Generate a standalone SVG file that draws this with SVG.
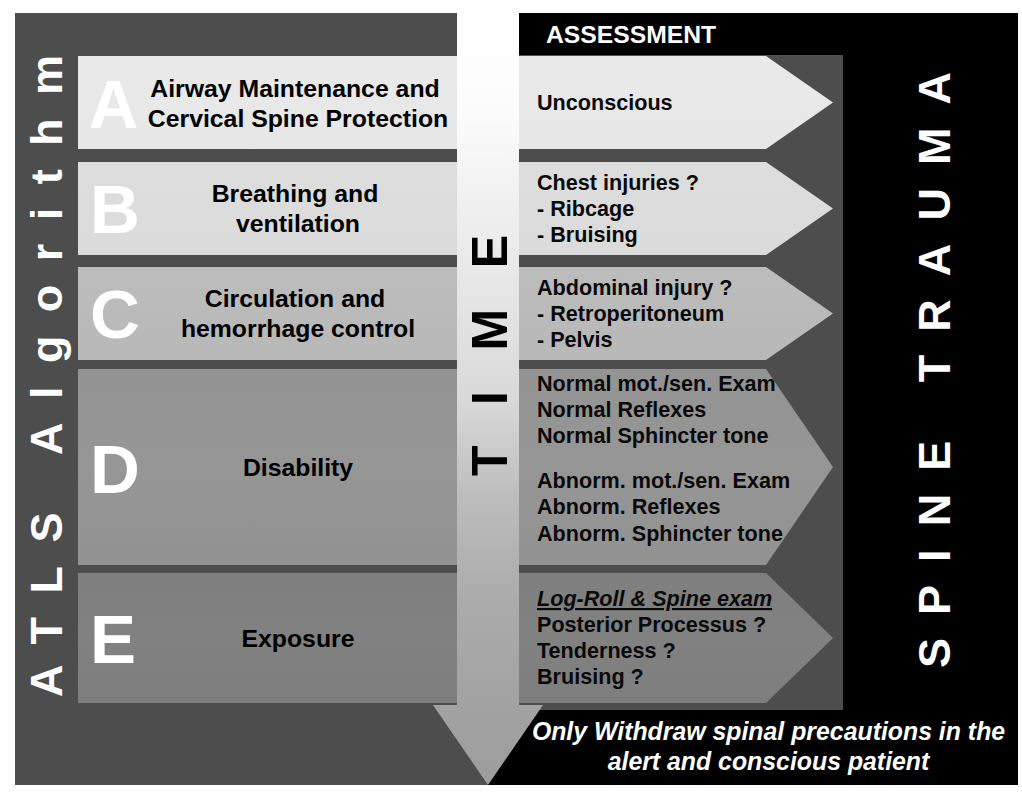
<svg xmlns="http://www.w3.org/2000/svg" width="1022" height="799" viewBox="0 0 1022 799">
<style>
text{font-family:"Liberation Sans",Arial,sans-serif;font-weight:700}
.t{font-size:24.8px;fill:#000;text-anchor:middle}
.r{font-size:21.6px;fill:#0a0a0a}
.b{font-size:69px;fill:#fff}
.v{font-size:45px;fill:#fff}
.w{fill:#fff;font-style:italic;font-size:24.85px;text-anchor:middle}
</style>
<defs>
<linearGradient id="time" gradientUnits="userSpaceOnUse" x1="0" y1="13" x2="0" y2="785"><stop offset="0" stop-color="#fff"/><stop offset=".12" stop-color="#fcfcfc"/><stop offset=".5" stop-color="#d8d9d8"/><stop offset=".63" stop-color="#bcbcbc"/><stop offset=".76" stop-color="#ababab"/><stop offset="1" stop-color="#9c9c9c"/></linearGradient>
<linearGradient id="ga" x1="0" y1="0" x2="0" y2="1"><stop offset="0" stop-color="#e9e9e9"/><stop offset="1" stop-color="#e7e7e7"/></linearGradient>
<linearGradient id="gb" x1="0" y1="0" x2="0" y2="1"><stop offset="0" stop-color="#dddddd"/><stop offset="1" stop-color="#dbdbdb"/></linearGradient>
<linearGradient id="gc" x1="0" y1="0" x2="0" y2="1"><stop offset="0" stop-color="#bcbcbc"/><stop offset="1" stop-color="#b8b8b8"/></linearGradient>
<linearGradient id="gd" x1="0" y1="0" x2="0" y2="1"><stop offset="0" stop-color="#939393"/><stop offset=".5" stop-color="#969696"/><stop offset="1" stop-color="#929292"/></linearGradient>
<linearGradient id="ge" x1="0" y1="0" x2="0" y2="1"><stop offset="0" stop-color="#7f7f7f"/><stop offset=".5" stop-color="#818181"/><stop offset="1" stop-color="#7e7e7e"/></linearGradient>
</defs>
<rect width="1022" height="799" fill="#fff"/>
<rect x="15" y="13" width="474" height="772" fill="#4d4d4d"/>
<path d="M519 13H1018V785H488V705H519Z" fill="#000"/>
<rect x="519" y="55" width="324" height="655" fill="#4d4d4d"/>
<g id="row-a"><path d="M78 56H457V149H78Z" fill="url(#ga)"/><path d="M519 56H766L833 102.500L766 149H519Z" fill="url(#ga)"/>
<text class="b" x="88.500" y="128">A</text><text class="t" x="295" y="97">Airway Maintenance and</text><text class="t" x="298" y="127">Cervical Spine Protection</text><text class="r" x="537" y="110">Unconscious</text></g>
<g id="row-b"><path d="M78 162H457V255H78Z" fill="url(#gb)"/><path d="M519 162H766L833 208.500L766 255H519Z" fill="url(#gb)"/>
<text class="b" x="90" y="233">B</text><text class="t" x="295" y="202">Breathing and</text><text class="t" x="298" y="232">ventilation</text><text class="r" x="537" y="190">Chest injuries ?</text><text class="r" x="537" y="216">- Ribcage</text><text class="r" x="537" y="242">- Bruising</text></g>
<g id="row-c"><path d="M78 267H457V360H78Z" fill="url(#gc)"/><path d="M519 267H766L833 313.500L766 360H519Z" fill="url(#gc)"/>
<text class="b" x="90" y="338">C</text><text class="t" x="295" y="307">Circulation and</text><text class="t" x="298" y="337">hemorrhage control</text><text class="r" x="537" y="295">Abdominal injury ?</text><text class="r" x="537" y="321">- Retroperitoneum</text><text class="r" x="537" y="347">- Pelvis</text></g>
<g id="row-d"><path d="M78 369H457V565H78Z" fill="url(#gd)"/><path d="M519 369H766L833 467L766 565H519Z" fill="url(#gd)"/>
<text class="b" x="90" y="493">D</text><text class="t" x="298" y="476">Disability</text><text class="r" x="537" y="391">Normal mot./sen. Exam</text><text class="r" x="537" y="417">Normal Reflexes</text><text class="r" x="537" y="443">Normal Sphincter tone</text><text class="r" x="537" y="488">Abnorm. mot./sen. Exam</text><text class="r" x="537" y="514">Abnorm. Reflexes</text><text class="r" x="537" y="541">Abnorm. Sphincter tone</text></g>
<g id="row-e"><path d="M78 573H457V703H78Z" fill="url(#ge)"/><path d="M519 573H766L833 638L766 703H519Z" fill="url(#ge)"/>
<text class="b" x="90" y="663">E</text><text class="t" x="298" y="647">Exposure</text><text class="r" x="537" y="606" font-style="italic" text-decoration="underline">Log-Roll &amp; Spine exam</text><text class="r" x="537" y="632">Posterior Processus ?</text><text class="r" x="537" y="658">Tenderness ?</text><text class="r" x="537" y="684">Bruising ?</text></g>
<g id="connectors"><path id="time-arrow" d="M457 13H519V705H543L488 785L433 705H457Z" fill="url(#time)"/></g>
<g id="time-label"><text font-size="50" transform="translate(507 476) rotate(-90)" textLength="241" lengthAdjust="spacing">TIME</text></g>
<g id="algo-label"><text class="v" transform="translate(62 697) rotate(-90)" textLength="642" lengthAdjust="spacing">ATLS Algorithm</text></g>
<g id="spine-label"><text class="v" transform="translate(950 668) rotate(-90)" textLength="596" lengthAdjust="spacing">SPINE TRAUMA</text></g>
<g id="assessment"><text x="546" y="43" font-size="24.7" fill="#fff">ASSESSMENT</text></g>
<g id="note"><text class="w" x="768.500" y="740">Only Withdraw spinal precautions in the</text><text class="w" x="768.500" y="770">alert and conscious patient</text></g>
</svg>
